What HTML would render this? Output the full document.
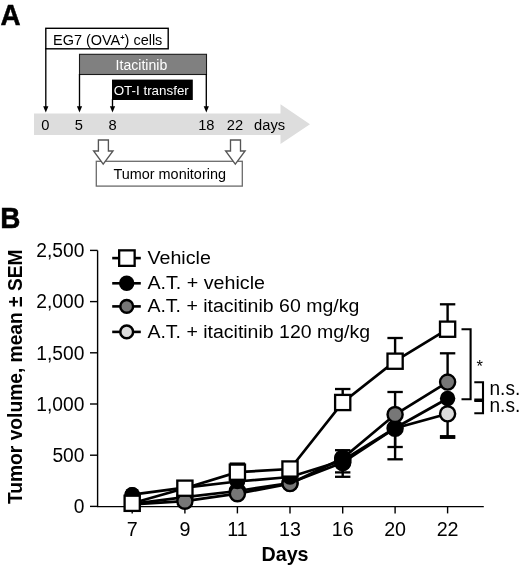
<!DOCTYPE html>
<html><head><meta charset="utf-8"><title>Figure</title>
<style>
html,body{margin:0;padding:0;background:#fff;}
svg{display:block;}
text{font-family:"Liberation Sans",sans-serif;fill:#000;}
.b{font-weight:bold;}
</style></head><body>
<svg width="520" height="569" viewBox="0 0 520 569">
<rect width="520" height="569" fill="#fff"/>
<g id="panelA">
<text transform="translate(0.5,24.5) scale(0.915,1)" font-size="30.4" class="b" stroke="#000" stroke-width="0.5">A</text>
<polygon points="34,113.6 280.5,113.6 280.5,104.3 310,124.2 280.5,144 280.5,135.1 34,135.1" fill="#dddddd"/>
<rect x="45.8" y="28.3" width="122.4" height="20.5" fill="#fff" stroke="#000" stroke-width="1.4"/>
<text transform="translate(53,44.9) scale(0.985,1)" font-size="14.7">EG7 (OVA<tspan font-size="7.5" dy="-4.6" style="font-weight:bold">+</tspan><tspan dy="4.6">) cells</tspan></text>
<line x1="45.8" y1="48.0" x2="45.8" y2="107" stroke="#000" stroke-width="1.35"/><polygon points="45.8,112.6 43.2,106.3 48.4,106.3" fill="#000"/>
<rect x="79.5" y="54.3" width="127" height="20.2" fill="#808080" stroke="#1a1a1a" stroke-width="1.1"/>
<text transform="translate(115.6,69.9) scale(0.965,1)" font-size="14.6" style="fill:#fff">Itacitinib</text>
<line x1="79.5" y1="74.0" x2="79.5" y2="107" stroke="#000" stroke-width="1.35"/><polygon points="79.5,112.6 76.9,106.3 82.1,106.3" fill="#000"/>
<line x1="206.3" y1="74.0" x2="206.3" y2="107" stroke="#000" stroke-width="1.35"/><polygon points="206.3,112.6 203.7,106.3 208.9,106.3" fill="#000"/>
<rect x="112" y="79.6" width="80.8" height="20.4" fill="#000"/>
<text transform="translate(113.7,95.0) scale(0.985,1)" font-size="13.6" style="fill:#fff">OT-I transfer</text>
<line x1="112.5" y1="99.0" x2="112.5" y2="107" stroke="#000" stroke-width="1.35"/><polygon points="112.5,112.6 109.9,106.3 115.1,106.3" fill="#000"/>
<text transform="translate(45.3,129.9) scale(1.0,1)" font-size="14.7" text-anchor="middle">0</text>
<text transform="translate(78.8,129.9) scale(1.0,1)" font-size="14.7" text-anchor="middle">5</text>
<text transform="translate(112.5,129.9) scale(1.0,1)" font-size="14.7" text-anchor="middle">8</text>
<text transform="translate(206.3,129.9) scale(1.0,1)" font-size="14.7" text-anchor="middle">18</text>
<text transform="translate(235.0,129.9) scale(1.0,1)" font-size="14.7" text-anchor="middle">22</text>
<text transform="translate(269.6,129.9) scale(1.0,1)" font-size="14.7" text-anchor="middle">days</text>
<rect x="96.3" y="161.3" width="146" height="24.8" fill="#fff" stroke="#6a6a6a" stroke-width="1.3"/>
<polygon points="98.4,140 108.4,140 108.4,151 113,151 103.2,164.2 93.6,151 98.4,151" fill="#fff" stroke="#555" stroke-width="1.35"/>
<polygon points="230.5,140 240.5,140 240.5,151 245.1,151 235.3,164.2 225.6,151 230.5,151" fill="#fff" stroke="#555" stroke-width="1.35"/>
<text transform="translate(113.5,178.9) scale(0.982,1)" font-size="14.7">Tumor monitoring</text>
</g>
<g id="panelB">
<text transform="translate(0.3,227.6) scale(0.925,1)" font-size="30.2" class="b" stroke="#000" stroke-width="0.5">B</text>
<path d="M97.6,250.4 V506.6 H483.8" fill="none" stroke="#000" stroke-width="1.4"/>
<line x1="90" y1="250.4" x2="97.6" y2="250.4" stroke="#000" stroke-width="1.4"/>
<text transform="translate(84.4,257.1) scale(0.975,1)" font-size="19.7" text-anchor="end">2,500</text>
<line x1="90" y1="301.6" x2="97.6" y2="301.6" stroke="#000" stroke-width="1.4"/>
<text transform="translate(84.4,308.3) scale(0.975,1)" font-size="19.7" text-anchor="end">2,000</text>
<line x1="90" y1="352.8" x2="97.6" y2="352.8" stroke="#000" stroke-width="1.4"/>
<text transform="translate(84.4,359.5) scale(0.975,1)" font-size="19.7" text-anchor="end">1,500</text>
<line x1="90" y1="404.0" x2="97.6" y2="404.0" stroke="#000" stroke-width="1.4"/>
<text transform="translate(84.4,410.7) scale(0.975,1)" font-size="19.7" text-anchor="end">1,000</text>
<line x1="90" y1="455.2" x2="97.6" y2="455.2" stroke="#000" stroke-width="1.4"/>
<text transform="translate(84.4,461.9) scale(0.975,1)" font-size="19.7" text-anchor="end">500</text>
<line x1="90" y1="506.4" x2="97.6" y2="506.4" stroke="#000" stroke-width="1.4"/>
<text transform="translate(84.4,513.1) scale(0.975,1)" font-size="19.7" text-anchor="end">0</text>
<line x1="132.2" y1="506.6" x2="132.2" y2="513.4" stroke="#000" stroke-width="1.4"/>
<text transform="translate(132.2,536.0) scale(1.0,1)" font-size="19.7" text-anchor="middle">7</text>
<line x1="184.9" y1="506.6" x2="184.9" y2="513.4" stroke="#000" stroke-width="1.4"/>
<text transform="translate(184.9,536.0) scale(1.0,1)" font-size="19.7" text-anchor="middle">9</text>
<line x1="237.4" y1="506.6" x2="237.4" y2="513.4" stroke="#000" stroke-width="1.4"/>
<text transform="translate(237.4,536.0) scale(1.0,1)" font-size="19.7" text-anchor="middle">11</text>
<line x1="290.0" y1="506.6" x2="290.0" y2="513.4" stroke="#000" stroke-width="1.4"/>
<text transform="translate(290.0,536.0) scale(1.0,1)" font-size="19.7" text-anchor="middle">13</text>
<line x1="342.7" y1="506.6" x2="342.7" y2="513.4" stroke="#000" stroke-width="1.4"/>
<text transform="translate(342.7,536.0) scale(1.0,1)" font-size="19.7" text-anchor="middle">16</text>
<line x1="395.1" y1="506.6" x2="395.1" y2="513.4" stroke="#000" stroke-width="1.4"/>
<text transform="translate(395.1,536.0) scale(1.0,1)" font-size="19.7" text-anchor="middle">20</text>
<line x1="447.6" y1="506.6" x2="447.6" y2="513.4" stroke="#000" stroke-width="1.4"/>
<text transform="translate(447.6,536.0) scale(1.0,1)" font-size="19.7" text-anchor="middle">22</text>
<text transform="translate(285.0,560.9) scale(1.0,1)" font-size="19.7" text-anchor="middle" class="b">Days</text>
<text class="b" transform="translate(21.7,504) rotate(-90)" font-size="19.7" textLength="254.6" lengthAdjust="spacingAndGlyphs">Tumor volume, mean ± SEM</text>
<line x1="112.2" y1="258.1" x2="140.8" y2="258.1" stroke="#000" stroke-width="2.6"/>
<rect x="119.15" y="250.35" width="15.5" height="15.5" fill="#fff" stroke="#000" stroke-width="2.3"/>
<text transform="translate(147.4,264.0) scale(1.026,1)" font-size="19.2">Vehicle</text>
<line x1="112.2" y1="283.3" x2="140.8" y2="283.3" stroke="#000" stroke-width="2.6"/>
<circle cx="126.7" cy="283.3" r="7.7" fill="#000"/>
<text transform="translate(147.4,288.9) scale(1.026,1)" font-size="19.2">A.T. + vehicle</text>
<line x1="112.2" y1="306.4" x2="140.8" y2="306.4" stroke="#000" stroke-width="2.6"/>
<circle cx="126.7" cy="306.4" r="6.4" fill="#777" stroke="#000" stroke-width="2.5"/>
<text transform="translate(147.4,312.4) scale(1.016,1)" font-size="19.2">A.T. + itacitinib 60 mg/kg</text>
<line x1="112.2" y1="331.9" x2="140.8" y2="331.9" stroke="#000" stroke-width="2.6"/>
<circle cx="126.7" cy="331.9" r="6.4" fill="#dcdcdc" stroke="#000" stroke-width="2.5"/>
<text transform="translate(147.4,338.1) scale(1.016,1)" font-size="19.2">A.T. + itacitinib 120 mg/kg</text>
<line x1="342.7" y1="462.6" x2="342.7" y2="476.8" stroke="#000" stroke-width="2.4"/>
<line x1="335.0" y1="476.8" x2="350.4" y2="476.8" stroke="#000" stroke-width="2.3"/>
<line x1="395.1" y1="428.2" x2="395.1" y2="459.3" stroke="#000" stroke-width="2.4"/>
<line x1="387.4" y1="459.3" x2="402.8" y2="459.3" stroke="#000" stroke-width="2.3"/>
<line x1="447.6" y1="413.8" x2="447.6" y2="437.0" stroke="#000" stroke-width="2.4"/>
<line x1="439.9" y1="437.8" x2="455.3" y2="437.8" stroke="#000" stroke-width="2.3"/>
<polyline fill="none" stroke="#000" stroke-width="2.7" points="132.2,503.8 184.9,497.2 237.4,491.0 290.0,483.0 342.7,462.6 395.1,428.2 447.6,413.8"/>
<circle cx="184.9" cy="497.2" r="7.55" fill="#dcdcdc" stroke="#000" stroke-width="2.4"/>
<circle cx="237.4" cy="491.0" r="7.55" fill="#dcdcdc" stroke="#000" stroke-width="2.4"/>
<circle cx="290.0" cy="483.0" r="7.55" fill="#dcdcdc" stroke="#000" stroke-width="2.4"/>
<circle cx="342.7" cy="462.6" r="7.55" fill="#dcdcdc" stroke="#000" stroke-width="2.4"/>
<circle cx="395.1" cy="428.2" r="7.55" fill="#dcdcdc" stroke="#000" stroke-width="2.4"/>
<circle cx="447.6" cy="413.8" r="7.55" fill="#dcdcdc" stroke="#000" stroke-width="2.4"/>
<line x1="342.7" y1="450.2" x2="342.7" y2="472.4" stroke="#000" stroke-width="2.4"/>
<line x1="335.0" y1="450.2" x2="350.4" y2="450.2" stroke="#000" stroke-width="2.3"/>
<line x1="335.0" y1="472.4" x2="350.4" y2="472.4" stroke="#000" stroke-width="2.3"/>
<line x1="395.1" y1="428.0" x2="395.1" y2="447.0" stroke="#000" stroke-width="2.4"/>
<line x1="387.4" y1="447.0" x2="402.8" y2="447.0" stroke="#000" stroke-width="2.3"/>
<line x1="439.9" y1="436.2" x2="455.3" y2="436.2" stroke="#000" stroke-width="2.3"/>
<polyline fill="none" stroke="#000" stroke-width="2.7" points="132.2,494.6 184.9,487.7 237.4,481.5 290.0,477.0 342.7,460.5 395.1,428.0 447.6,398.5"/>
<circle cx="132.2" cy="494.6" r="7.7" fill="#000"/>
<circle cx="184.9" cy="487.7" r="7.7" fill="#000"/>
<circle cx="237.4" cy="481.5" r="7.7" fill="#000"/>
<circle cx="290.0" cy="477.0" r="7.7" fill="#000"/>
<circle cx="342.7" cy="460.5" r="7.7" fill="#000"/>
<circle cx="395.1" cy="428.0" r="7.7" fill="#000"/>
<circle cx="447.6" cy="398.5" r="7.7" fill="#000"/>
<line x1="395.1" y1="392.0" x2="395.1" y2="414.5" stroke="#000" stroke-width="2.4"/>
<line x1="387.4" y1="392.0" x2="402.8" y2="392.0" stroke="#000" stroke-width="2.3"/>
<line x1="447.6" y1="353.3" x2="447.6" y2="382.1" stroke="#000" stroke-width="2.4"/>
<line x1="439.9" y1="353.3" x2="455.3" y2="353.3" stroke="#000" stroke-width="2.3"/>
<polyline fill="none" stroke="#000" stroke-width="2.7" points="132.2,504.3 184.9,501.2 237.4,493.7 290.0,483.6 342.7,458.3 395.1,414.5 447.6,382.1"/>
<circle cx="184.9" cy="501.2" r="7.55" fill="#777" stroke="#000" stroke-width="2.4"/>
<circle cx="237.4" cy="493.7" r="7.55" fill="#777" stroke="#000" stroke-width="2.4"/>
<circle cx="290.0" cy="483.6" r="7.55" fill="#777" stroke="#000" stroke-width="2.4"/>
<circle cx="342.7" cy="458.3" r="7.55" fill="#777" stroke="#000" stroke-width="2.4"/>
<circle cx="395.1" cy="414.5" r="7.55" fill="#777" stroke="#000" stroke-width="2.4"/>
<circle cx="447.6" cy="382.1" r="7.55" fill="#777" stroke="#000" stroke-width="2.4"/>
<circle cx="132.2" cy="494.6" r="7.7" fill="#000"/>
<circle cx="184.9" cy="487.7" r="7.7" fill="#000"/>
<circle cx="237.4" cy="481.5" r="7.7" fill="#000"/>
<circle cx="290.0" cy="477.0" r="7.7" fill="#000"/>
<ellipse cx="342.8" cy="460.6" rx="8.8" ry="10.4" fill="#000"/>
<line x1="237.4" y1="463.6" x2="237.4" y2="472.2" stroke="#000" stroke-width="2.4"/>
<line x1="229.7" y1="463.6" x2="245.1" y2="463.6" stroke="#000" stroke-width="2.3"/>
<line x1="342.7" y1="389.0" x2="342.7" y2="402.5" stroke="#000" stroke-width="2.4"/>
<line x1="335.0" y1="389.0" x2="350.4" y2="389.0" stroke="#000" stroke-width="2.3"/>
<line x1="395.1" y1="338.0" x2="395.1" y2="361.2" stroke="#000" stroke-width="2.4"/>
<line x1="387.4" y1="338.0" x2="402.8" y2="338.0" stroke="#000" stroke-width="2.3"/>
<line x1="447.6" y1="304.3" x2="447.6" y2="329.2" stroke="#000" stroke-width="2.4"/>
<line x1="439.9" y1="304.3" x2="455.3" y2="304.3" stroke="#000" stroke-width="2.3"/>
<polyline fill="none" stroke="#000" stroke-width="2.7" points="132.2,503.3 184.9,488.2 237.4,472.2 290.0,469.0 342.7,402.5 395.1,361.2 447.6,329.2"/>
<rect x="124.60" y="495.70" width="15.2" height="15.2" fill="#fff" stroke="#000" stroke-width="2.3"/>
<rect x="177.30" y="480.60" width="15.2" height="15.2" fill="#fff" stroke="#000" stroke-width="2.3"/>
<rect x="229.80" y="464.60" width="15.2" height="15.2" fill="#fff" stroke="#000" stroke-width="2.3"/>
<rect x="282.40" y="461.40" width="15.2" height="15.2" fill="#fff" stroke="#000" stroke-width="2.3"/>
<rect x="335.10" y="394.90" width="15.2" height="15.2" fill="#fff" stroke="#000" stroke-width="2.3"/>
<rect x="387.50" y="353.60" width="15.2" height="15.2" fill="#fff" stroke="#000" stroke-width="2.3"/>
<rect x="440.00" y="321.60" width="15.2" height="15.2" fill="#fff" stroke="#000" stroke-width="2.3"/>
<path d="M461.5,329.3 H470.6 V399.2 H461.5" fill="none" stroke="#000" stroke-width="2.1"/>
<path d="M474.3,382.3 H483 V399.6 H474.3" fill="none" stroke="#000" stroke-width="2.1"/>
<path d="M474.3,401 H483 V413.2 H474.3" fill="none" stroke="#000" stroke-width="2.1"/>
<text transform="translate(479.8,371.6) scale(1.0,1)" font-size="16.5" text-anchor="middle">*</text>
<text transform="translate(489.5,394.6) scale(0.97,1)" font-size="19.7">n.s.</text>
<text transform="translate(489.5,411.8) scale(0.97,1)" font-size="19.7">n.s.</text>
</g>
</svg>
</body></html>
